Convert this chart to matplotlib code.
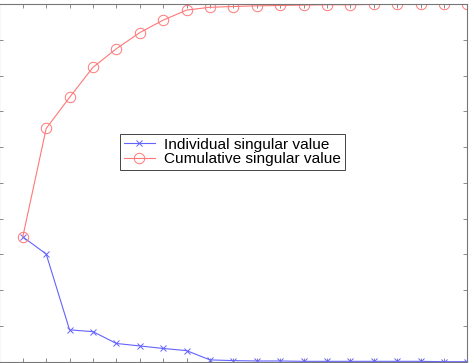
import numpy as np
import matplotlib.pyplot as plt

plt.rcParams['font.family'] = ['Liberation Sans', 'DejaVu Sans']

# singular value index
k = np.arange(1, 21)
# normalised singular values
individual = [0.349, 0.301, 0.089, 0.084, 0.051, 0.044, 0.037, 0.031, 0.005, 0.003,
              0.002, 0.002, 0.001, 0.001, 0.001, 0.001, 0.001, 0.001, 0.0, 0.0]
cumulative = [0.349, 0.652, 0.739, 0.823, 0.875, 0.920, 0.955, 0.983, 0.991, 0.993,
              0.995, 0.996, 0.997, 0.998, 0.998, 0.999, 0.999, 1.0, 1.0, 1.0]

fig = plt.figure(figsize=(4.74, 3.63), dpi=100)
ax = fig.add_axes([-0.0013, 0.0036, 0.9872, 0.9853])

ax.plot(k, individual, color='#6464ff', marker='x', markersize=4,
        linewidth=0.8, markeredgewidth=0.7, label='Individual singular value')
ax.plot(k, cumulative, color='#ff7878', marker='o', markersize=7.5,
        markerfacecolor='none', linewidth=0.8, markeredgewidth=0.7,
        label='Cumulative singular value')

ax.set_xlim(0, 20)
ax.set_ylim(0, 1)
ax.set_xticks(np.arange(0, 21))
ax.set_yticks(np.arange(0, 1.01, 0.1))
ax.tick_params(direction='in', length=3, width=0.6, color='#777777',
               top=True, right=True, labelleft=False, labelbottom=False)
for s in ax.spines.values():
    s.set_color('#777777')
    s.set_linewidth(0.8)

leg = ax.legend(loc='center', bbox_to_anchor=(0.498, 0.586), fontsize=11.1,
                fancybox=False, framealpha=1, edgecolor='#444444',
                borderpad=0.25, handletextpad=0.6, labelspacing=0.05)
leg.get_frame().set_linewidth(0.7)

fig.savefig('out.png', dpi=100)
